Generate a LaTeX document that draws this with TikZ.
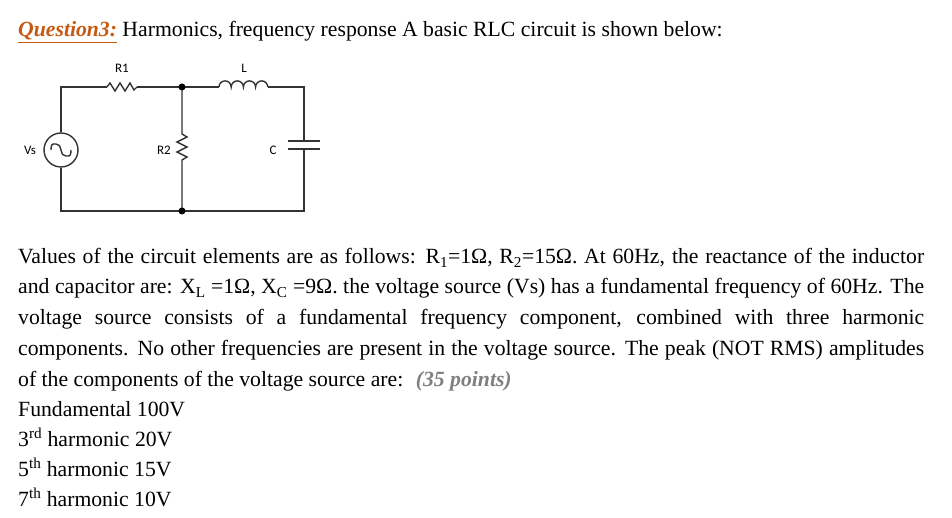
\documentclass[tikz,border=0pt]{standalone}
\usepackage{fontspec}
\setmainfont{Liberation Serif}
\newfontfamily\lblfont{Carlito}
\definecolor{qorange}{HTML}{C55A11}
\definecolor{ptgray}{HTML}{7F7F7F}
\begin{document}
\begin{tikzpicture}[x=1pt,y=-1pt,
  wire/.style={line width=1.4pt,black!80},
  lbl/.style={font=\lblfont\fontsize{13}{15}\selectfont,inner sep=0pt},
  txt/.style={anchor=base west,inner sep=0pt,font=\fontsize{21.7}{25}\selectfont}]
\useasboundingbox (0,0) rectangle (952,518);
\coordinate (tl) at (61,87);
\coordinate (r1a) at (107,87);
\coordinate (r1b) at (137,87);
\coordinate (tm) at (182,87);
\coordinate (la) at (219,87);
\coordinate (lb) at (268,87);
\coordinate (tr) at (304,87);
\coordinate (c1) at (304,141);
\coordinate (c2) at (304,149);
\coordinate (br) at (304,211);
\coordinate (bm) at (182,211);
\coordinate (bl) at (61,211);
\coordinate (r2a) at (182,134);
\coordinate (r2b) at (182,164);
\node[circle,draw,line width=1.4pt,black!80,minimum size=34pt,inner sep=0pt] (vs) at (61,150) {};
\draw[wire] (vs.north) -- (tl) -- (r1a);
\draw[wire] (r1a) -- ++(3,-4) -- ++(5,8) -- ++(5,-8) -- ++(5,8) -- ++(5,-8) -- ++(4,7) -- (r1b);
\draw[wire] (r1b) -- (tm) -- (la);
\draw[wire] (la) arc[start angle=180,end angle=360,radius=6.1] arc[start angle=180,end angle=360,radius=6.1] arc[start angle=180,end angle=360,radius=6.1] arc[start angle=180,end angle=360,radius=6.1];
\draw[wire] (lb) -- (tr) -- (c1);
\draw[wire] (288,141) -- (320,141);
\draw[wire] (288,149) -- (320,149);
\draw[wire] (c2) -- (br) -- (bm) -- (bl) -- (vs.south);
\draw[wire] (tm) -- (r2a) -- ++(5,3) -- ++(-10,5) -- ++(10,5) -- ++(-10,5) -- ++(10,5) -- ++(-5,3) -- (r2b) -- (bm);
\draw[wire] (vs.center) ++(-10,0) .. controls ++(0,-7) and ++(-3,0) .. ++(5,-6) .. controls ++(3,0) and ++(-1,-4) .. ++(5,6) .. controls ++(1,4) and ++(-3,0) .. ++(5,6) .. controls ++(3,0) and ++(0,7) .. ++(5,-6);
\fill[black] (tm) circle (3.5);
\fill[black] (bm) circle (3.5);
\node[lbl] (lr1) at (122,68) {R1};
\node[lbl] (ll) at (244,68) {L};
\node[lbl] (lvs) at (30,150) {Vs};
\node[lbl] (lr2) at (164,150) {R2};
\node[lbl] (lc) at (273,150) {C};
\node[txt] (title) at (18,37) {\textcolor{qorange}{\bfseries\itshape\underline{Question3:}} Harmonics, frequency response A basic RLC circuit is shown below:};
\node[txt] (p1) at (18,264) {\makebox[906pt][s]{Values of the circuit elements are as follows: R\textsubscript{1}=1Ω, R\textsubscript{2}=15Ω. At 60Hz, the reactance of the inductor}};
\node[txt] (p2) at (18,294) {\makebox[906pt][s]{and capacitor are: X\textsubscript{L} =1Ω, X\textsubscript{C} =9Ω. the voltage source (Vs) has a fundamental frequency of 60Hz. The}};
\node[txt] (p3) at (18,324) {\makebox[906pt][s]{voltage source consists of a fundamental frequency component, combined with three harmonic}};
\node[txt] (p4) at (18,355) {\makebox[906pt][s]{components. No other frequencies are present in the voltage source. The peak (NOT RMS) amplitudes}};
\node[txt] (p5) at (18,386) {of the components of the voltage source are: \ \textcolor{ptgray}{\bfseries\itshape (35 points)}};
\node[txt] (p6) at (18,416) {Fundamental 100V};
\node[txt] (p7) at (18,446) {3\textsuperscript{rd} harmonic 20V};
\node[txt] (p8) at (18,476) {5\textsuperscript{th} harmonic 15V};
\node[txt] (p9) at (18,506) {7\textsuperscript{th} harmonic 10V};
\end{tikzpicture}
\end{document}
